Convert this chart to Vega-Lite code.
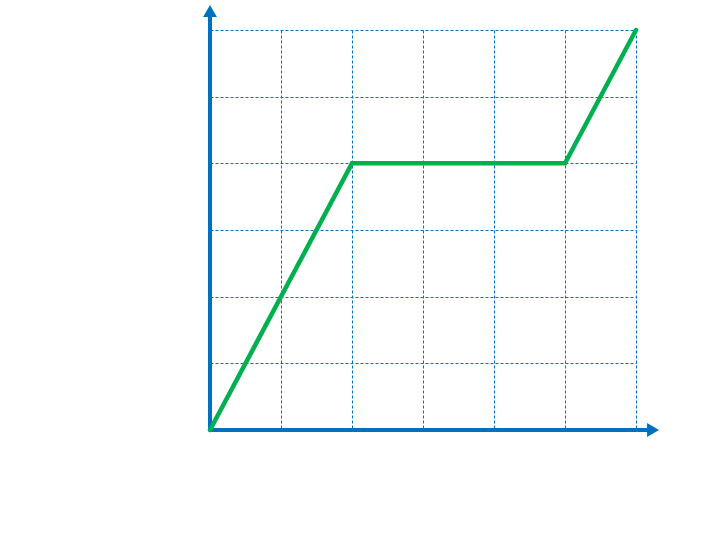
{
  "$schema": "https://vega.github.io/schema/vega-lite/v6.json",
  "width": 426,
  "height": 400,
  "autosize": "none",
  "padding": {"left": 210, "top": 30, "right": 84, "bottom": 110},
  "background": "white",
  "datasets": {
    "path": [
      {"x": 0, "y": 0},
      {"x": 2, "y": 4},
      {"x": 5, "y": 4},
      {"x": 6, "y": 6}
    ],
    "axes": [
      {"x": 0, "y": 0, "x2": 6.24, "y2": 0},
      {"x": 0, "y": 0, "x2": 0, "y2": 6.285}
    ],
    "arrows": [
      {"x": 6.24, "y": 0, "shape": "triangle-right"},
      {"x": 0, "y": 6.285, "shape": "triangle-up"}
    ]
  },
  "layer": [
    {
      "data": {"name": "axes"},
      "mark": {"type": "rule", "color": "#0070C0", "strokeWidth": 4},
      "encoding": {
        "x": {"field": "x", "type": "quantitative", "scale": {"domain": [0, 6], "nice": false},
              "axis": {"values": [0, 1, 2, 3, 4, 5, 6]}},
        "x2": {"field": "x2"},
        "y": {"field": "y", "type": "quantitative", "scale": {"domain": [0, 6], "nice": false},
              "axis": {"values": [0, 1, 2, 3, 4, 5, 6]}},
        "y2": {"field": "y2"}
      }
    },
    {
      "data": {"name": "arrows"},
      "mark": {"type": "point", "filled": true, "color": "#0070C0", "size": 192, "opacity": 1},
      "encoding": {
        "x": {"field": "x", "type": "quantitative"},
        "y": {"field": "y", "type": "quantitative"},
        "shape": {"field": "shape", "type": "nominal", "scale": null}
      }
    },
    {
      "data": {"name": "path"},
      "mark": {"type": "line", "color": "#00B050", "strokeWidth": 4.5, "strokeCap": "round", "strokeJoin": "miter"},
      "encoding": {
        "x": {"field": "x", "type": "quantitative"},
        "y": {"field": "y", "type": "quantitative"}
      }
    }
  ],
  "config": {
    "view": {"stroke": null},
    "axis": {
      "grid": true,
      "gridColor": "#0070C0",
      "gridDash": [3, 2],
      "gridWidth": 1,
      "gridOpacity": 1,
      "labels": false,
      "ticks": false,
      "domain": false,
      "title": null
    }
  }
}
